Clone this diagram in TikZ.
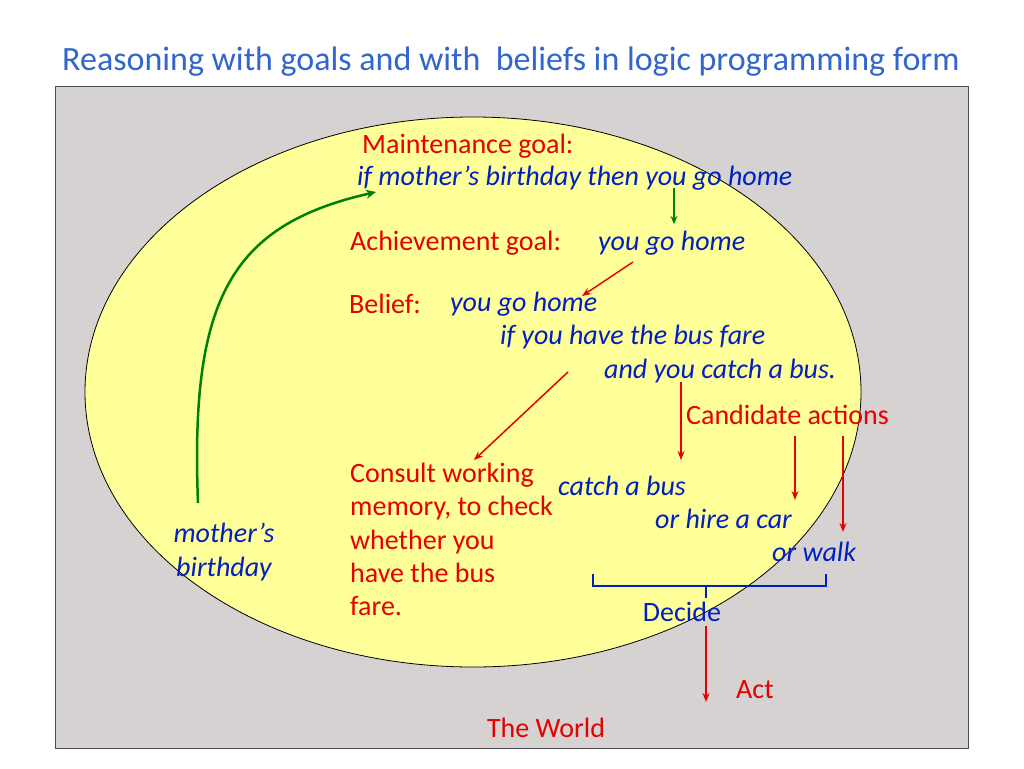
\documentclass[tikz,border=0pt]{standalone}
\usepackage{fontspec}
\setmainfont{Carlito}
\usetikzlibrary{arrows.meta}
\definecolor{tblue}{RGB}{51,102,204}
\definecolor{iblue}{RGB}{0,32,192}
\definecolor{rred}{RGB}{230,0,0}
\definecolor{ggreen}{RGB}{0,128,0}
\definecolor{yel}{RGB}{255,255,153}
\definecolor{gry}{RGB}{214,210,210}
\tikzset{
 rt/.style={anchor=west,inner sep=0pt,text=rred,font=\fontsize{28}{33}\selectfont},
 bt/.style={anchor=west,inner sep=0pt,text=iblue,font=\fontsize{28}{33}\selectfont\itshape},
 rarr/.style={draw=rred,line width=1.5pt,-{Stealth[length=9pt,width=7pt]}},
 garr/.style={draw=ggreen,line width=2.5pt,-{Stealth[length=10pt,width=9pt]}},
}
\begin{document}
\begin{tikzpicture}[x=1pt,y=-1pt]
\useasboundingbox (0,0) rectangle (1024,768);
\fill[white] (0,0) rectangle (1024,768);
\node[anchor=west,inner sep=0pt,text=tblue,font=\fontsize{34}{40}\selectfont] (title) at (62,62) {Reasoning with goals and with\ \ beliefs in logic programming form};
\draw[fill=gry,draw=black!70,line width=0.8pt] (55,86) rectangle (968,748);
\draw[fill=yel,draw=black,line width=0.8pt] (473,392) ellipse [x radius=388,y radius=275];
\node[rt] (mg) at (362,146) {Maintenance goal:};
\node[bt] (mgr) at (357,178) {if mother’s birthday then you go home};
\node[rt] (ag) at (350,243) {Achievement goal:};
\node[bt] (agr) at (598,243) {you go home};
\node[rt] (bel) at (349,304) {Belief:};
\node[bt] (b1) at (450,304) {you go home};
\node[bt] (b2) at (500,337) {if you have the bus fare};
\node[bt] (b3) at (604,371) {and you catch a bus.};
\node[rt] (cand) at (686,415) {Candidate actions};
\node[rt,align=left,anchor=north west,font=\fontsize{28}{33.3}\selectfont] (cons) at (350,463) {Consult working\\memory, to check\\whether you\\have the bus\\fare.};
\node[bt] (c1) at (558,486) {catch a bus};
\node[bt] (c2) at (655,519) {or hire a car};
\node[bt] (c3) at (772,552) {or walk};
\node[bt,anchor=center,align=center,font=\fontsize{28}{33.3}\selectfont\itshape] (mb) at (224,552) {mother’s\\birthday};
\node[anchor=center,inner sep=0pt,text=iblue,font=\fontsize{28}{33}\selectfont] (dec) at (682,612) {Decide};
\node[rt] (act) at (736,690) {Act};
\node[rt,anchor=center] (world) at (546,728) {The World};
\coordinate (g1) at (674,188); \coordinate (g2) at (674,224);
\draw[draw=ggreen,line width=1.5pt,-{Stealth[length=8pt,width=7pt]}] (g1) -- (g2);
\coordinate (a1) at (633,262); \coordinate (a2) at (582,296);
\draw[rarr] (a1) -- (a2);
\coordinate (a3) at (568,372); \coordinate (a4) at (474,460);
\draw[rarr] (a3) -- (a4);
\coordinate (a5) at (681,382); \coordinate (a6) at (681,460);
\draw[rarr] (a5) -- (a6);
\coordinate (a7) at (795,436); \coordinate (a8) at (795,500);
\draw[rarr] (a7) -- (a8);
\coordinate (a9) at (843,436); \coordinate (a10) at (843,532);
\draw[rarr] (a9) -- (a10);
\coordinate (a11) at (706,626); \coordinate (a12) at (706,702);
\draw[rarr] (a11) -- (a12);
\coordinate (m1) at (198,503); \coordinate (m2) at (376,192);
\draw[garr] (m1) .. controls (190,300) and (230,225) .. (m2);
\draw[iblue,line width=2.5pt] (593,574) -- (593,586) -- (826,586) -- (826,574);
\draw[iblue,line width=2.5pt] (706,586) -- (706,598);
\end{tikzpicture}
\end{document}
